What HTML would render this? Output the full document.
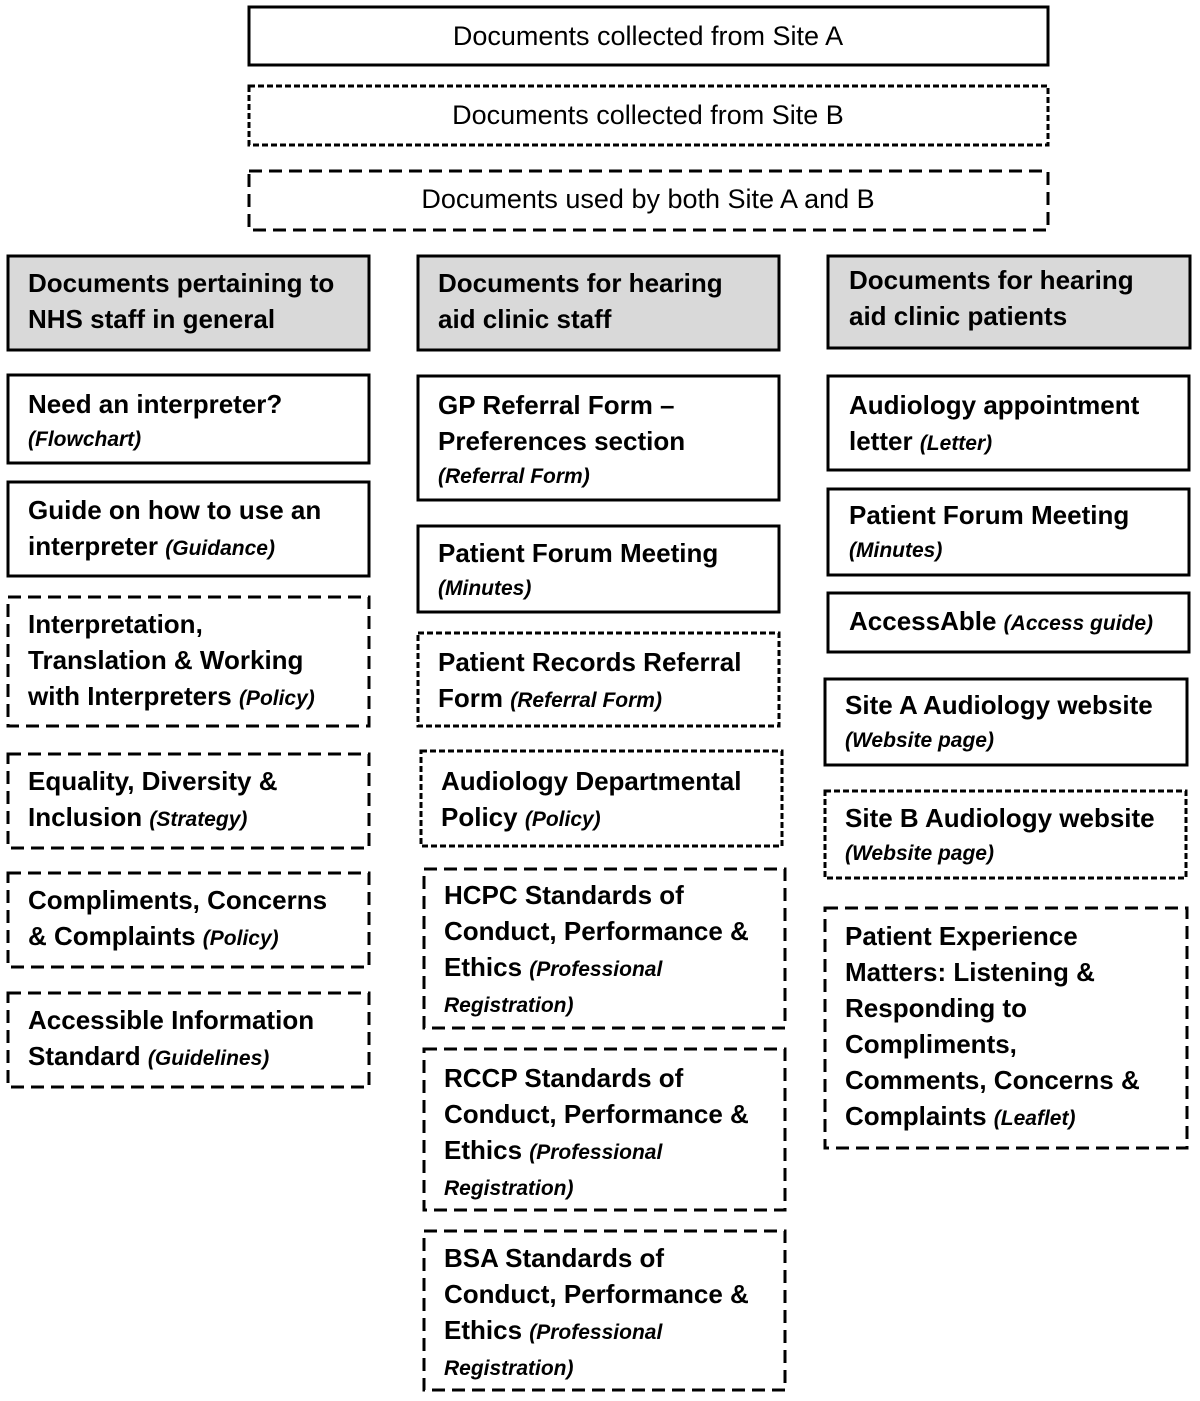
<!DOCTYPE html>
<html><head><meta charset="utf-8"><style>
html,body{margin:0;padding:0;background:#fff;}
body{width:1200px;height:1401px;position:relative;overflow:hidden;font-family:"Liberation Sans",sans-serif;color:#000;}
svg{position:absolute;left:0;top:0;}
.t{position:absolute;font-weight:bold;font-size:26px;line-height:36px;white-space:nowrap;}
.t i{font-size:21px;}
.t .s{line-height:31px;}
.c{position:absolute;font-size:27px;line-height:32px;text-align:center;width:800px;left:248px;}
</style></head><body>
<svg width="1200" height="1401" fill="none" stroke="#000" stroke-width="3">
<rect x="249" y="7" width="799" height="58"/>
<rect x="249" y="86" width="799" height="59" stroke-dasharray="6 3"/>
<rect x="249" y="171" width="799" height="59" stroke-dasharray="13 7"/>
<g fill="#d9d9d9"><rect x="8" y="256" width="361" height="94"/><rect x="418" y="256" width="361" height="94"/><rect x="828" y="256" width="362" height="92"/></g>
<rect x="8" y="375" width="361" height="88"/>
<rect x="8" y="482" width="361" height="94"/>
<g stroke-dasharray="13 7">
<rect x="8" y="597" width="361" height="129"/>
<rect x="8" y="754" width="361" height="94"/>
<rect x="8" y="873" width="361" height="94"/>
<rect x="8" y="993" width="361" height="94"/>
</g>
<rect x="418" y="376" width="361" height="124"/>
<rect x="418" y="526" width="361" height="86"/>
<g stroke-dasharray="6 3">
<rect x="418" y="633" width="361" height="93"/>
<rect x="421" y="751" width="361" height="95"/>
<rect x="825" y="791" width="361" height="87"/>
</g>
<g stroke-dasharray="13 7">
<rect x="424" y="869" width="361" height="159"/>
<rect x="424" y="1049" width="361" height="161"/>
<rect x="424" y="1231" width="361" height="159"/>
<rect x="825" y="908" width="362" height="240"/>
</g>
<rect x="828" y="376" width="361" height="94"/>
<rect x="828" y="489" width="361" height="86"/>
<rect x="828" y="593" width="361" height="59"/>
<rect x="825" y="679" width="362" height="86"/>
</svg>

<div class="c" style="top:20px">Documents collected from Site A</div>
<div class="c" style="top:99px">Documents collected from Site B</div>
<div class="c" style="top:183px">Documents used by both Site A and B</div>

<div class="t" style="left:28px;top:265px">Documents pertaining to<br>NHS staff in general</div>
<div class="t" style="left:438px;top:265px">Documents for hearing<br>aid clinic staff</div>
<div class="t" style="left:849px;top:262px">Documents for hearing<br>aid clinic patients</div>

<div class="t" style="left:28px;top:386px">Need an interpreter?<div class="s"><i>(Flowchart)</i></div></div>
<div class="t" style="left:28px;top:492px">Guide on how to use an<br>interpreter <i>(Guidance)</i></div>
<div class="t" style="left:28px;top:606px">Interpretation,<br>Translation &amp; Working<br>with Interpreters <i>(Policy)</i></div>
<div class="t" style="left:28px;top:763px">Equality, Diversity &amp;<br>Inclusion <i>(Strategy)</i></div>
<div class="t" style="left:28px;top:882px">Compliments, Concerns<br>&amp; Complaints <i>(Policy)</i></div>
<div class="t" style="left:28px;top:1002px">Accessible Information<br>Standard <i>(Guidelines)</i></div>

<div class="t" style="left:438px;top:387px">GP Referral Form –<br>Preferences section<div class="s"><i>(Referral Form)</i></div></div>
<div class="t" style="left:438px;top:535px">Patient Forum Meeting<div class="s"><i>(Minutes)</i></div></div>
<div class="t" style="left:438px;top:644px">Patient Records Referral<br>Form <i>(Referral Form)</i></div>
<div class="t" style="left:441px;top:763px">Audiology Departmental<br>Policy <i>(Policy)</i></div>
<div class="t" style="left:444px;top:877px">HCPC Standards of<br>Conduct, Performance &amp;<br>Ethics <i>(Professional</i><div class="s"><i>Registration)</i></div></div>
<div class="t" style="left:444px;top:1060px">RCCP Standards of<br>Conduct, Performance &amp;<br>Ethics <i>(Professional</i><div class="s"><i>Registration)</i></div></div>
<div class="t" style="left:444px;top:1240px">BSA Standards of<br>Conduct, Performance &amp;<br>Ethics <i>(Professional</i><div class="s"><i>Registration)</i></div></div>

<div class="t" style="left:849px;top:387px">Audiology appointment<br>letter <i>(Letter)</i></div>
<div class="t" style="left:849px;top:497px">Patient Forum Meeting<div class="s"><i>(Minutes)</i></div></div>
<div class="t" style="left:849px;top:603px">AccessAble <i>(Access guide)</i></div>
<div class="t" style="left:845px;top:687px">Site A Audiology website<div class="s"><i>(Website page)</i></div></div>
<div class="t" style="left:845px;top:800px">Site B Audiology website<div class="s"><i>(Website page)</i></div></div>
<div class="t" style="left:845px;top:918px">Patient Experience<br>Matters: Listening &amp;<br>Responding to<br>Compliments,<br>Comments, Concerns &amp;<br>Complaints <i>(Leaflet)</i></div>
</body></html>
